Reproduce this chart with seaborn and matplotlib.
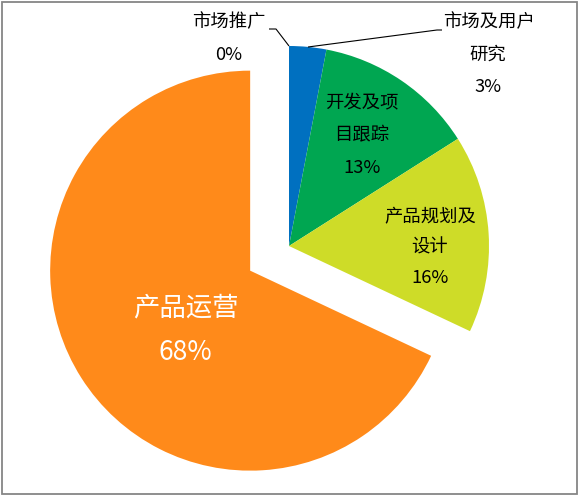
import matplotlib
matplotlib.use("Agg")
import matplotlib.pyplot as plt
import seaborn as sns
from matplotlib.patches import Rectangle

sns.set_theme(style="white")
plt.rcParams['font.family'] = ['Noto Sans CJK SC', 'DejaVu Sans']

categories = ["市场推广", "市场及用户\n研究", "开发及项\n目跟踪", "产品规划及\n设计", "产品运营"]
values = [0, 3, 13, 16, 68]
pct_labels = ["0%", "3%", "13%", "16%", "68%"]
colors = ["#4F81BD", "#0070C0", "#00A651", "#CEDC28", "#FF8A1A"]
text_colors = ["black", "black", "black", "black", "white"]

W, H = 579, 495
fig = plt.figure(figsize=(W / 100, H / 100), dpi=100)
ax = fig.add_axes([0, 0, 1, 1])

# pixel <-> data mapping (radius 1 == 200 px, centre at pixel (289, 246))
CX, CY, R = 289, 246, 200.0
def P(px, py):
    return ((px - CX) / R, (CY - py) / R)

explode = [0, 0, 0, 0, 0.23]
ax.pie(values, colors=colors, startangle=90, counterclock=False,
       explode=explode, radius=1, center=(0, 0),
       wedgeprops=dict(linewidth=0))

ax.set_xlim(-CX / R, (W - CX) / R)
ax.set_ylim(-(H - CY) / R, CY / R)
ax.set_aspect('equal')
ax.axis('off')

fs = 13.2
# label positions (pixels)
label_pos = [(229, 22), (489, 22), (362, 103), (430, 217), (186, 308)]
pct_pos = [(229, 55), (488, 87), (362, 168), (430, 278), (185, 352)]
sizes = [fs, fs, fs, fs, 19]

for i, cat in enumerate(categories):
    lx, ly = label_pos[i]
    txt = cat + "\n" + pct_labels[i]
    lines = txt.split("\n")
    # place each line individually for precise spacing
    if i == 1:
        ys = [22, 55, 87]
    elif i == 0:
        ys = [22, 55]
    elif i == 2:
        ys = [103, 135, 168]
    elif i == 3:
        ys = [217, 247, 278]
    else:
        ys = [308, 352]
    xs = [pct_pos[i][0] if k == len(lines) - 1 else lx for k in range(len(lines))]
    if i == 1:
        xs = [489, 488, 488]
    for line, x, y in zip(lines, xs, ys):
        ax.text(*P(x, y), line, ha='center', va='center',
                fontsize=sizes[i], color=text_colors[i])

# leader lines
l1 = [P(269, 29), P(276, 29), P(289, 46)]
l2 = [P(442, 30), P(437, 30), P(308, 47)]
for seg in (l1, l2):
    ax.plot([p[0] for p in seg], [p[1] for p in seg], color='black', lw=0.8,
            solid_capstyle='butt')

# chart border
fig.patches.append(Rectangle((1.5 / W, 1.5 / H), (W - 4) / W, (H - 3.5) / H,
                             transform=fig.transFigure, fill=False,
                             edgecolor='#868686', linewidth=1.3))

fig.savefig("out.png", dpi=100, facecolor='white')
